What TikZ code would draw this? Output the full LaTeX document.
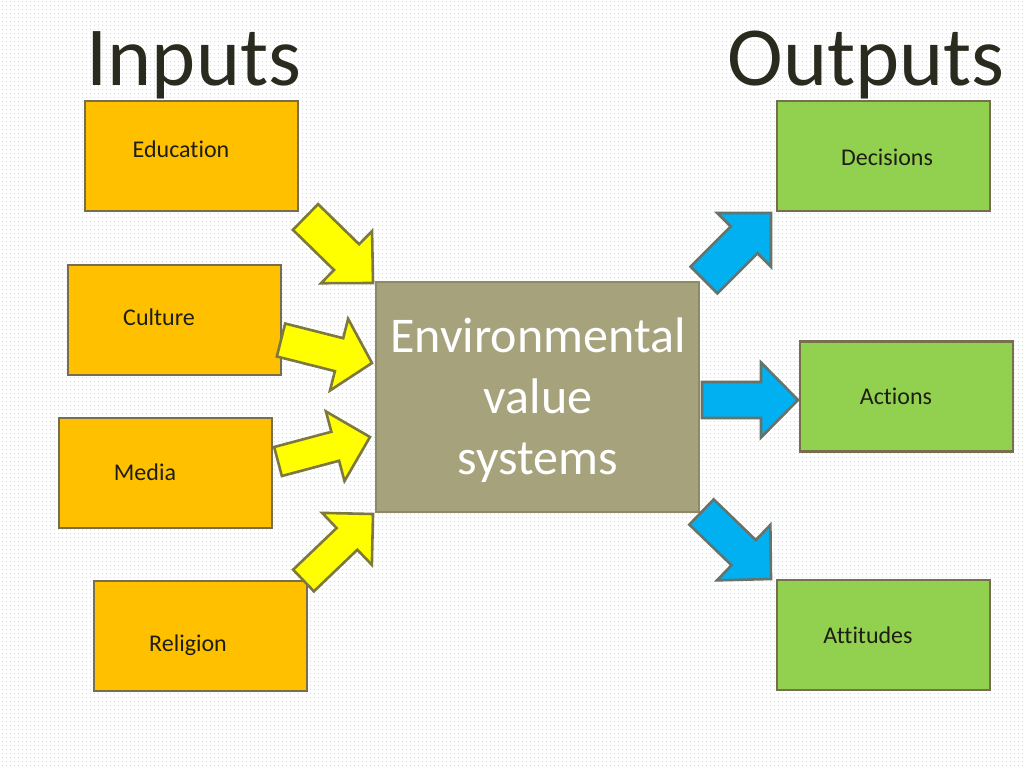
\documentclass[tikz,border=0pt]{standalone}
\usepackage{fontspec}
\setmainfont{Carlito}[Ligatures=NoCommon]
\usetikzlibrary{calc,patterns.meta}
\definecolor{bgdot}{HTML}{9CC8D6}
\definecolor{orangebox}{HTML}{FFC000}
\definecolor{greenbox}{HTML}{92D050}
\definecolor{centerbox}{HTML}{A6A27C}
\definecolor{boxline}{HTML}{766E4C}
\definecolor{centerline}{HTML}{8E8A66}
\definecolor{yarrow}{HTML}{FFFF00}
\definecolor{yarrowline}{HTML}{7D7840}
\definecolor{barrow}{HTML}{00B0F0}
\definecolor{barrowline}{HTML}{65736A}
\definecolor{titletext}{HTML}{2A2A1E}
\definecolor{labeltext}{HTML}{1E1E14}
\newcommand\blockarr[6]{%
  \coordinate (ba-b) at ($(#2)!#5!(#1)$);
  \draw[#6] ($(#1)!#3!90:(#2)$) -- ($(ba-b)!#3!-90:(#1)$) -- ($(ba-b)!#4!-90:(#1)$)
    -- (#2) -- ($(ba-b)!#4!90:(#1)$) -- ($(ba-b)!#3!90:(#1)$) -- ($(#1)!#3!-90:(#2)$) -- cycle;}
\tikzset{
  inbox/.style={draw=boxline, line width=2.2pt, fill=orangebox, minimum width=213pt, minimum height=110pt, inner sep=0pt},
  outbox/.style={draw=boxline, line width=2.2pt, fill=greenbox, minimum width=213pt, minimum height=110pt, inner sep=0pt},
  lbl/.style={anchor=base, text=labeltext, font=\fontsize{24}{28}\selectfont, inner sep=0pt},
  ctext/.style={anchor=base, text=white, font=\fontsize{50}{58}\selectfont, inner sep=0pt},
  title/.style={anchor=base, text=titletext, font=\fontsize{84}{90}\selectfont, inner sep=0pt},
  yarr/.style={fill=yarrow, draw=yarrowline, line width=2.6pt, line join=miter},
  barr/.style={fill=barrow, draw=barrowline, line width=2.6pt, line join=miter}
}
\begin{document}
\begin{tikzpicture}[x=1pt,y=-1pt]
\useasboundingbox (0,0) rectangle (1024,768);
\fill[white] (0,0) rectangle (1024,768);
\fill[pattern={Dots[radius=0.5pt,distance=4pt]}, pattern color=bgdot] (0,0) rectangle (1024,768);

% titles
\node[title] (tin) at (194,85) {Inputs};
\node[title] (tout) at (866,85) {Outputs};

% input boxes
\node[inbox] (edu) at (191.5,156) {};
\node[inbox] (cul) at (174.5,320) {};
\node[inbox] (med) at (165.5,473) {};
\node[inbox] (rel) at (200.5,636) {};
\node[lbl] (edut) at (181,157) {Education};
\node[lbl] (cult) at (159,325) {Culture};
\node[lbl] (medt) at (145,480) {Media};
\node[lbl] (relt) at (188,651) {Religion};

% output boxes
\node[outbox] (dec) at (883.5,156) {};
\node[outbox] (act) at (906.5,396.5) {};
\node[outbox] (att) at (883.5,635) {};
\node[lbl] (dect) at (887,165) {Decisions};
\node[lbl] (actt) at (896,404) {Actions};
\node[lbl] (attt) at (868,643) {Attitudes};

% center box
\node[draw=centerline, line width=2pt, fill=centerbox, minimum width=323pt, minimum height=230pt, inner sep=0pt] (env) at (537.5,397) {};
\node[ctext] (env1) at (538,352) {Environmental};
\node[ctext] (env2) at (538,413) {value};
\node[ctext] (env3) at (538,474) {systems};

% arrow coordinates
\coordinate (a1t) at (305.5,217); \coordinate (a1h) at (373,283);
\coordinate (a2t) at (281,340);   \coordinate (a2h) at (372,363);
\coordinate (a3t) at (278,461.5); \coordinate (a3h) at (370,437);
\coordinate (a4t) at (303.5,580.5); \coordinate (a4h) at (373,514);
\coordinate (a5t) at (704,280);   \coordinate (a5h) at (771,213);
\coordinate (a6t) at (702,400);   \coordinate (a6h) at (798,400);
\coordinate (a7t) at (701.5,512); \coordinate (a7h) at (771,579);

\blockarr{a1t}{a1h}{18pt}{36.5pt}{37pt}{yarr}
\blockarr{a2t}{a2h}{17pt}{37pt}{34pt}{yarr}
\blockarr{a3t}{a3h}{15pt}{36pt}{36pt}{yarr}
\blockarr{a4t}{a4h}{15pt}{36pt}{36pt}{yarr}
\blockarr{a5t}{a5h}{19pt}{38pt}{38pt}{barr}
\blockarr{a6t}{a6h}{18pt}{37.5pt}{37pt}{barr}
\blockarr{a7t}{a7h}{17.5pt}{38.5pt}{38pt}{barr}
\end{tikzpicture}
\end{document}
